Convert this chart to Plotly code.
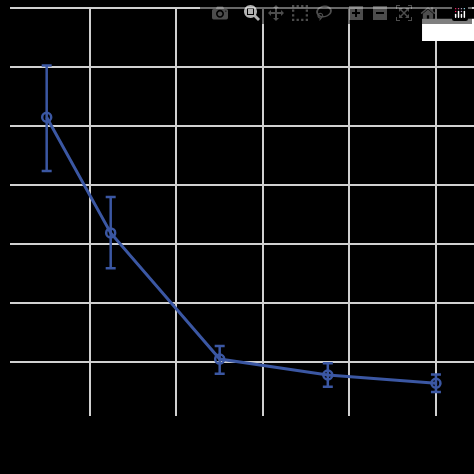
import plotly.graph_objects as go

x_vals = [5, 12.4, 25, 37.5, 50]
y_vals = [5.15, 3.19, 1.05, 0.78, 0.64]
err_plus = [0.88, 0.61, 0.22, 0.2, 0.15]
err_minus = [0.91, 0.60, 0.25, 0.2, 0.15]

fig = go.Figure(go.Scatter(
    x=x_vals, y=y_vals, mode="lines+markers",
    line=dict(color="#3b57a3", width=3),
    marker=dict(symbol="circle-open", size=9, color="#3b57a3", line=dict(width=2.5)),
    error_y=dict(type="data", symmetric=False, array=err_plus, arrayminus=err_minus,
                 color="#3b57a3", thickness=2.5, width=5),
    showlegend=False))
fig.add_shape(type="rect", xref="paper", yref="paper", x0=0.888, x1=1.0, y0=0.917, y1=0.971,
              fillcolor="white", line=dict(width=0))
fig.update_layout(
    width=474, height=474, paper_bgcolor="black", plot_bgcolor="black",
    margin=dict(l=10, r=0, t=7, b=58),
    xaxis=dict(range=[0.76, 54.4], tickvals=[10, 20, 30, 40, 50], showgrid=True,
               gridcolor="#d0d0d0", gridwidth=1.5, zeroline=False, showticklabels=False),
    yaxis=dict(range=[0.085, 7.02], tickvals=[1, 2, 3, 4, 5, 6, 7], showgrid=True,
               gridcolor="#d0d0d0", gridwidth=1.5, zeroline=False, showticklabels=False),
)
fig.write_html("out.html", post_script="document.body.style.margin='0';document.body.style.background='black';")
